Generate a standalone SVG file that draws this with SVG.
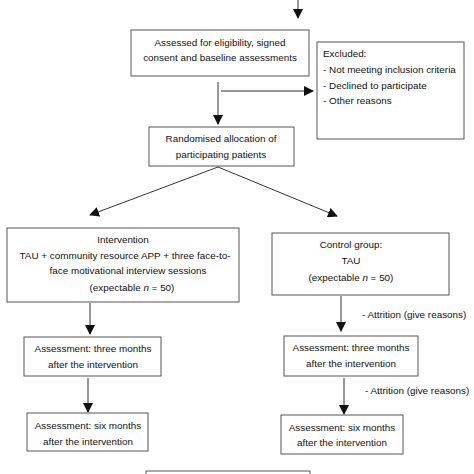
<svg xmlns="http://www.w3.org/2000/svg" width="474" height="474" viewBox="0 0 474 474">
<defs>
<marker id="ah" markerWidth="10" markerHeight="10" refX="9" refY="5" orient="auto" markerUnits="userSpaceOnUse">
<path d="M0,0 L10,5 L0,10 Z" fill="#111"/>
</marker>
<style>
.box{fill:#fff;stroke:#555;stroke-width:1}
.ln{stroke:#333;stroke-width:1;fill:none}
.ar{stroke:#333;stroke-width:1;fill:none;marker-end:url(#ah)}
text{font-family:"Liberation Sans",Arial,sans-serif;font-size:9.9px;fill:#111}
.c{text-anchor:middle}
</style>
</defs>
<rect width="474" height="474" fill="#fff"/>
<g id="connectors">
<line class="ar" x1="298" y1="0" x2="298" y2="18"/>
<line class="ar" x1="218" y1="82" x2="218" y2="124"/>
<line class="ln" x1="221" y1="91" x2="300" y2="91"/>
<line class="ar" x1="300" y1="91" x2="313" y2="91"/>
<line class="ar" x1="218" y1="167" x2="90" y2="215"/>
<line class="ar" x1="218" y1="167" x2="337" y2="216"/>
<line class="ar" x1="90" y1="303" x2="90" y2="334"/>
<line class="ar" x1="341" y1="296" x2="341" y2="331"/>
<line class="ar" x1="88" y1="378" x2="88" y2="412"/>
<line class="ar" x1="344" y1="378" x2="344" y2="414"/>
</g>
<g id="n-assessed">
<rect class="box" x="131" y="30" width="178" height="46"/>
<text class="c" x="220" y="46">Assessed for eligibility, signed</text>
<text class="c" x="220" y="61">consent and baseline assessments</text>
</g>
<g id="n-excluded">
<rect class="box" x="317" y="42" width="147" height="97"/>
<text x="323" y="57">Excluded:</text>
<text x="323" y="73">- Not meeting inclusion criteria</text>
<text x="323" y="89">- Declined to participate</text>
<text x="323" y="104">- Other reasons</text>
</g>
<g id="n-random">
<rect class="box" x="149" y="127" width="145" height="39"/>
<text class="c" x="221" y="142">Randomised allocation of</text>
<text class="c" x="221" y="158">participating patients</text>
</g>
<g id="n-intervention">
<rect class="box" x="7" y="228" width="232" height="74"/>
<text class="c" x="123" y="243">Intervention</text>
<text class="c" x="125" y="259">TAU + community resource APP + three face-to-</text>
<text class="c" x="128" y="274">face motivational interview sessions</text>
<text class="c" x="132" y="291">(expectable <tspan font-style="italic">n</tspan> = 50)</text>
</g>
<g id="n-control">
<rect class="box" x="272" y="233" width="177" height="62"/>
<text class="c" x="351" y="248">Control group:</text>
<text class="c" x="351" y="264">TAU</text>
<text class="c" x="351" y="281">(expectable <tspan font-style="italic">n</tspan> = 50)</text>
</g>
<g id="l-attr1">
<text x="362" y="318">- Attrition (give reasons)</text>
</g>
<g id="l-attr2">
<text x="365" y="394">- Attrition (give reasons)</text>
</g>
<g id="n-int3">
<rect class="box" x="24" y="337" width="137" height="39"/>
<text class="c" x="93" y="352">Assessment: three months</text>
<text class="c" x="93" y="368">after the intervention</text>
</g>
<g id="n-ctl3">
<rect class="box" x="284" y="336" width="134" height="40"/>
<text class="c" x="351" y="351">Assessment: three months</text>
<text class="c" x="351" y="367">after the intervention</text>
</g>
<g id="n-int6">
<rect class="box" x="27" y="413" width="121" height="38"/>
<text class="c" x="88" y="429">Assessment: six months</text>
<text class="c" x="88" y="445">after the intervention</text>
</g>
<g id="n-ctl6">
<rect class="box" x="281" y="415" width="122" height="39"/>
<text class="c" x="342" y="431">Assessment: six months</text>
<text class="c" x="342" y="446">after the intervention</text>
</g>
<g id="n-bottom">
<rect class="box" x="146" y="471" width="164" height="20"/>
</g>
</svg>
